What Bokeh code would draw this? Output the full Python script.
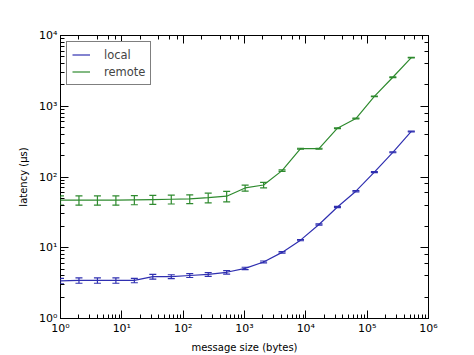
from bokeh.plotting import figure
from bokeh.models import (ColumnDataSource, Whisker, TeeHead, LogAxis, Range1d,
                          Legend, LegendItem, CustomLabelingPolicy)
from bokeh.embed import file_html
from bokeh.resources import INLINE

# message sizes (bytes)
sizes = [2 ** k for k in range(20)]
# latency (us)
local = [3.4, 3.45, 3.45, 3.45, 3.45, 3.9, 3.9, 4.05, 4.2, 4.5,
         5.1, 6.3, 8.6, 12.8, 21.3, 37.7, 63, 117, 223, 440]
local_err = [0.3, 0.3, 0.3, 0.3, 0.25, 0.3, 0.25, 0.25, 0.25, 0.25,
             0.2, 0.2, 0.2, 0.25, 0.4, 0.7, 1.2, 2, 3, 5]
remote = [47, 47, 47, 47, 47.5, 48, 48.5, 49, 51, 53.5,
          70, 77, 123, 251, 251, 490, 670, 1380, 2570, 4870]
remote_err = [7, 7, 7, 7, 7, 7, 7, 7, 8, 9,
              7, 7, 3, 4, 4, 6, 8, 15, 25, 40]

tick_labels = {1: "10⁰", 10: "10¹", 100: "10²", 1000: "10³",
               10000: "10⁴", 100000: "10⁵", 1000000: "10⁶"}

BLUE = "#2f2fb0"
GREEN = "#2e8a2e"
FONT = "DejaVu Sans"

p = figure(width=474, height=355, x_axis_type="log", y_axis_type="log",
           x_range=Range1d(1, 1e6), y_range=Range1d(1, 1e4),
           output_backend="svg", toolbar_location=None,
           min_border_left=60, min_border_right=46,
           min_border_top=35, min_border_bottom=35)
p.background_fill_color = "white"
p.border_fill_color = "white"
p.outline_line_color = "black"
p.outline_line_width = 1
p.xgrid.visible = False
p.ygrid.visible = False

renderers = {}
for name, vals, errs, col in [("local", local, local_err, BLUE),
                              ("remote", remote, remote_err, GREEN)]:
    src = ColumnDataSource(dict(x=sizes, y=vals,
                                lo=[v - e for v, e in zip(vals, errs)],
                                hi=[v + e for v, e in zip(vals, errs)]))
    r = p.line("x", "y", source=src, line_color=col, line_width=1.2)
    w = Whisker(base="x", lower="lo", upper="hi", source=src,
                line_color=col, line_width=1.2,
                upper_head=TeeHead(size=7, line_color=col, line_width=1.2),
                lower_head=TeeHead(size=7, line_color=col, line_width=1.2))
    p.add_layout(w)
    renderers[name] = r

def style_axis(ax):
    ax.axis_line_color = None
    ax.major_tick_in = 8
    ax.major_tick_out = 0
    ax.minor_tick_in = 4
    ax.minor_tick_out = 0
    ax.major_tick_line_color = "black"
    ax.minor_tick_line_color = "black"
    ax.major_label_text_font = FONT
    ax.major_label_text_color = "black"
    ax.major_label_text_font_size = "11px"
    ax.major_label_overrides = tick_labels
    ax.axis_label_text_font = FONT
    ax.axis_label_text_font_style = "normal"
    ax.axis_label_text_font_size = "10px"
    ax.axis_label_text_color = "black"

style_axis(p.xaxis[0])
style_axis(p.yaxis[0])
p.xaxis[0].axis_label = "message size (bytes)"
p.yaxis[0].axis_label = "latency (μs)"
p.xaxis[0].major_label_standoff = 3
p.yaxis[0].major_label_standoff = 3
p.xaxis[0].axis_label_standoff = 4
p.yaxis[0].axis_label_standoff = 7

hide_all = "for (const i of indices) indices.unset(i)\nreturn indices"
top = LogAxis(major_label_policy=CustomLabelingPolicy(code=hide_all))
style_axis(top)
p.add_layout(top, "above")
right = LogAxis(major_label_policy=CustomLabelingPolicy(code=hide_all))
style_axis(right)
p.add_layout(right, "right")

legend = Legend(items=[LegendItem(label="local", renderers=[renderers["local"]]),
                       LegendItem(label="remote", renderers=[renderers["remote"]])],
                location="top_left")
legend.margin = 6
legend.padding = 5
legend.spacing = 2
legend.glyph_width = 18
legend.glyph_height = 15
legend.label_standoff = 14
legend.label_text_font = FONT
legend.label_text_font_size = "11.5px"
legend.border_line_color = "black"
legend.border_line_width = 1
legend.background_fill_alpha = 1
p.add_layout(legend)

open("out.html", "w").write(file_html(p, INLINE))
